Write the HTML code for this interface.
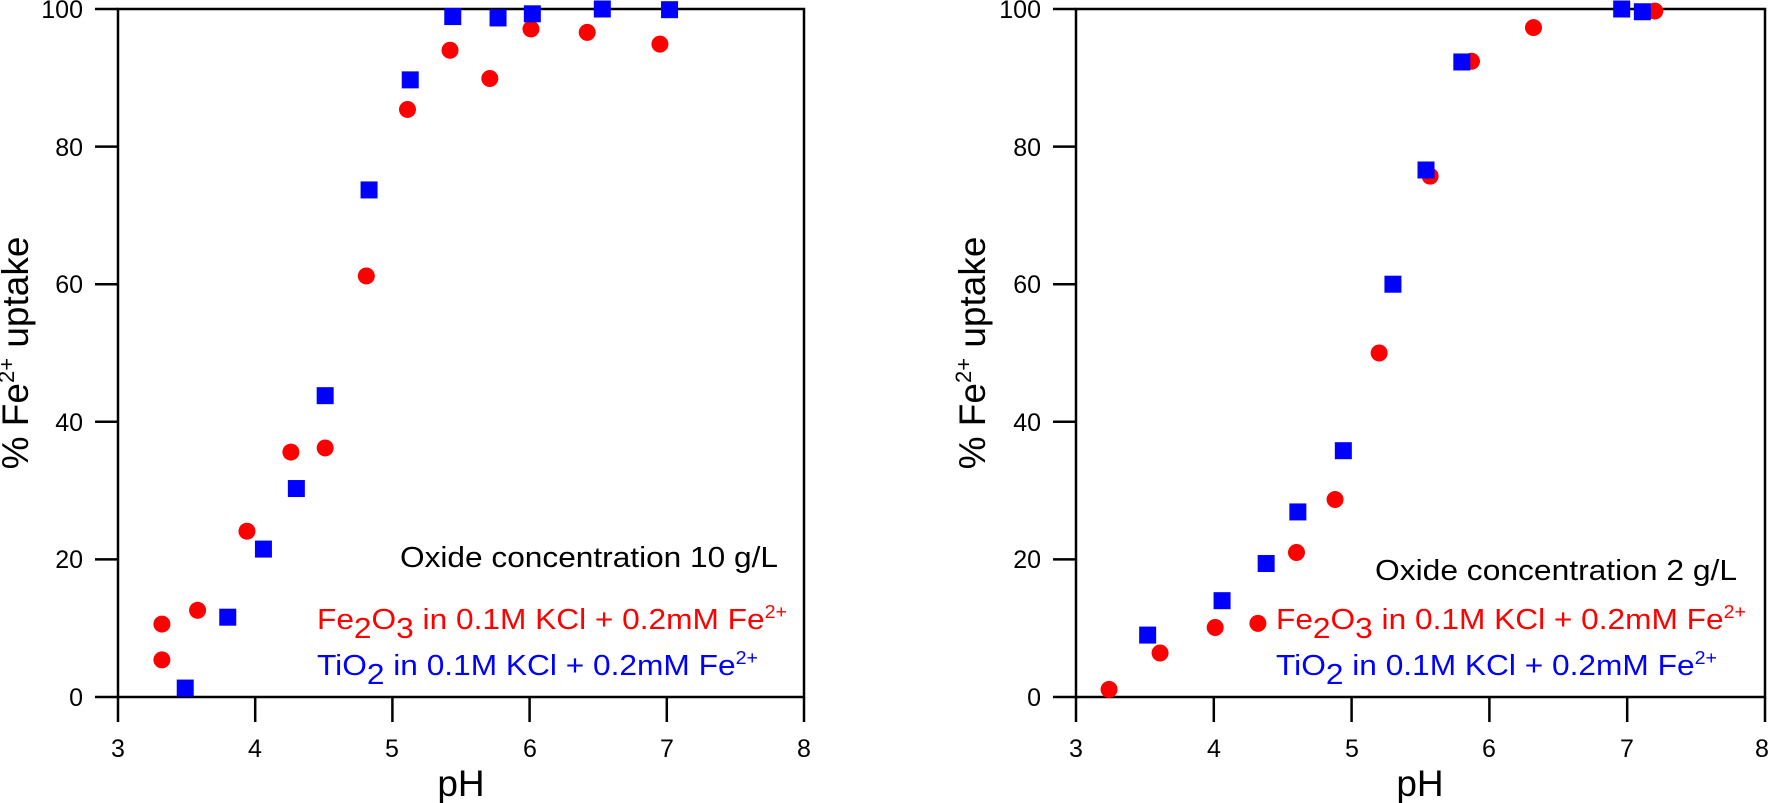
<!DOCTYPE html>
<html><head><meta charset="utf-8"><style>
html,body{margin:0;padding:0;background:#fff;}
svg{display:block;}
text{font-family:"Liberation Sans",Arial,sans-serif;}
</style></head><body>
<svg width="1772" height="803" viewBox="0 0 1772 803" xmlns="http://www.w3.org/2000/svg">
<g stroke="#000" stroke-width="2.5" fill="none">
<rect x="118" y="9" width="686" height="688"/>
<path d="M95 697H118M95 559.4H118M95 421.8H118M95 284.2H118M95 146.6H118M95 9H118"/>
<path d="M118 697V722M255.2 697V722M392.4 697V722M529.6 697V722M666.8 697V722M804 697V722"/>
<rect x="1076" y="9" width="689" height="688"/>
<path d="M1053 697H1076M1053 559.4H1076M1053 421.8H1076M1053 284.2H1076M1053 146.6H1076M1053 9H1076"/>
<path d="M1076 697V722M1213.8 697V722M1351.6 697V722M1489.4 697V722M1627.2 697V722M1765 697V722"/>
</g>
<g font-size="25" fill="#000" text-anchor="end">
<text x="83" y="706">0</text><text x="83" y="568">20</text><text x="83" y="431">40</text><text x="83" y="293">60</text><text x="83" y="156">80</text><text x="83" y="18">100</text>
<text x="1041" y="706">0</text><text x="1041" y="568">20</text><text x="1041" y="431">40</text><text x="1041" y="293">60</text><text x="1041" y="156">80</text><text x="1041" y="18">100</text>
</g>
<g font-size="25" fill="#000" text-anchor="middle">
<text x="118" y="757">3</text><text x="255" y="757">4</text><text x="392" y="757">5</text><text x="530" y="757">6</text><text x="667" y="757">7</text><text x="804" y="757">8</text>
<text x="1076" y="757">3</text><text x="1214" y="757">4</text><text x="1352" y="757">5</text><text x="1489" y="757">6</text><text x="1627" y="757">7</text><text x="1762" y="757">8</text>
</g>
<g font-size="37" fill="#000" text-anchor="middle">
<text x="461" y="796">pH</text>
<text x="1420" y="796">pH</text>
<text transform="translate(28 353) rotate(-90)">% Fe<tspan font-size="22" dy="-14">2+</tspan><tspan dy="14"> uptake</tspan></text>
<text transform="translate(985 353) rotate(-90)">% Fe<tspan font-size="22" dy="-14">2+</tspan><tspan dy="14"> uptake</tspan></text>
</g>
<g font-size="29">
<text x="400" y="567" fill="#000" textLength="378" lengthAdjust="spacingAndGlyphs">Oxide concentration 10 g/L</text>
<text x="317" y="629" fill="#f00" textLength="470" lengthAdjust="spacingAndGlyphs">Fe<tspan dy="9">2</tspan><tspan dy="-9">O</tspan><tspan dy="9">3</tspan><tspan dy="-9"> in 0.1M KCl + 0.2mM Fe</tspan><tspan font-size="18" dy="-11">2+</tspan></text>
<text x="317" y="675" fill="#00f" textLength="441" lengthAdjust="spacingAndGlyphs">TiO<tspan dy="9">2</tspan><tspan dy="-9"> in 0.1M KCl + 0.2mM Fe</tspan><tspan font-size="18" dy="-11">2+</tspan></text>
<text x="1375" y="580" fill="#000" textLength="362" lengthAdjust="spacingAndGlyphs">Oxide concentration 2 g/L</text>
<text x="1276" y="629" fill="#f00" textLength="470" lengthAdjust="spacingAndGlyphs">Fe<tspan dy="9">2</tspan><tspan dy="-9">O</tspan><tspan dy="9">3</tspan><tspan dy="-9"> in 0.1M KCl + 0.2mM Fe</tspan><tspan font-size="18" dy="-11">2+</tspan></text>
<text x="1276" y="675" fill="#00f" textLength="441" lengthAdjust="spacingAndGlyphs">TiO<tspan dy="9">2</tspan><tspan dy="-9"> in 0.1M KCl + 0.2mM Fe</tspan><tspan font-size="18" dy="-11">2+</tspan></text>
</g>
<g id="pts"></g>
<script>
(function(){
var NS="http://www.w3.org/2000/svg",g=document.getElementById("pts");
function L(p){return 118+(p-3)*137.2;}
function R(p){return 1076+(p-3)*137.8;}
function Y(v){return 697-v*6.88;}
function c(x,y){var e=document.createElementNS(NS,"circle");e.setAttribute("cx",x);e.setAttribute("cy",y);e.setAttribute("r",8.5);e.setAttribute("fill","#f00");g.appendChild(e);}
function s(x,y){var e=document.createElementNS(NS,"rect");e.setAttribute("x",x-8.5);e.setAttribute("y",y-8.5);e.setAttribute("width",17);e.setAttribute("height",17);e.setAttribute("fill","#00f");g.appendChild(e);}
var lr=[[3.32,10.6],[3.32,5.4],[3.58,12.6],[3.94,24.1],[4.26,35.6],[4.51,36.2],[4.81,61.2],[5.11,85.4],[5.42,94.0],[5.71,89.9],[6.01,97.1],[6.42,96.6],[6.95,94.9]];
var lb=[[3.49,1.3],[3.80,11.6],[4.06,21.5],[4.30,30.3],[4.51,43.8],[4.83,73.7],[5.13,89.7],[5.44,98.9],[5.77,98.7],[6.02,99.3],[6.53,100],[7.02,99.9]];
var rr=[[3.24,1.1],[3.61,6.4],[4.01,10.1],[4.32,10.7],[4.60,21.0],[4.88,28.7],[5.20,50.0],[5.57,75.7],[5.87,92.4],[6.32,97.3],[7.20,99.7]];
var rb=[[3.52,9.0],[4.06,14.0],[4.38,19.4],[4.61,26.9],[4.94,35.8],[5.30,60.0],[5.54,76.6],[5.80,92.3],[6.96,100],[7.11,99.6]];
lr.forEach(function(d){c(L(d[0]),Y(d[1]));});
rr.forEach(function(d){c(R(d[0]),Y(d[1]));});
lb.forEach(function(d){s(L(d[0]),Y(d[1]));});
rb.forEach(function(d){s(R(d[0]),Y(d[1]));});
})();
</script>
</svg>
</body></html>
